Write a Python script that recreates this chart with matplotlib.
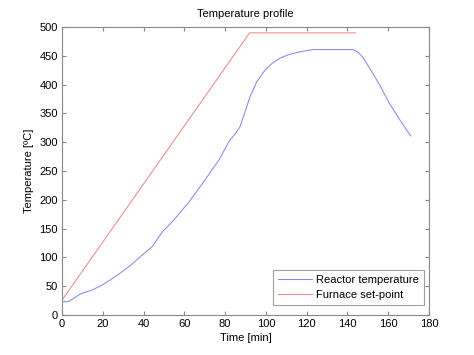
import numpy as np
import matplotlib.pyplot as plt

plt.rcParams['font.family'] = ['Liberation Sans', 'DejaVu Sans']
plt.rcParams['font.size'] = 8

# reactor temperature
t_reactor = [0, 2, 3.3, 9, 14.8, 19.7, 24.5, 29.6, 34.5, 39.4, 44.3, 49.3, 55, 62.4,
             69, 77.1, 82, 85, 87.3, 89.5, 92.2, 95.5, 99.5, 103, 106.9, 111, 116.7,
             123, 142.7, 145, 147.5, 151.5, 155.9, 160.5, 165.7, 171]
T_reactor = [23, 23, 23.5, 36.6, 43.5, 52, 63, 75.5, 89, 104.5, 119, 145, 165.5, 197,
             229, 270, 302, 315, 327, 350, 379, 405, 425, 437, 446, 452, 457,
             461, 461, 457, 448, 425, 399, 368, 339, 311]

# furnace set-point
t_furnace = [0, 92, 144]
T_furnace = [26, 490, 490]

fig = plt.figure(figsize=(4.74, 3.55), dpi=100)
ax = fig.add_axes([0.131, 0.1127, 0.774, 0.811])

ax.plot(t_reactor, T_reactor, color='#8888f0', linewidth=0.75, label='Reactor temperature')
ax.plot(t_furnace, T_furnace, color='#f08888', linewidth=0.75, label='Furnace set-point')

ax.set_xlim(0, 180)
ax.set_ylim(0, 500)
ax.set_xticks(np.arange(0, 181, 20))
ax.set_yticks(np.arange(0, 501, 50))
ax.tick_params(direction='in', top=True, right=True, length=3, color='#888888', labelsize=8, pad=3)
for s in ax.spines.values():
    s.set_color('#888888')
    s.set_linewidth(0.8)

ax.set_title('Temperature profile', fontsize=8, pad=7)
ax.set_xlabel('Time [min]', fontsize=8, labelpad=3)
ax.set_ylabel('Temperature [ºC]', fontsize=8, labelpad=4)

leg = ax.legend(loc='lower right', bbox_to_anchor=(0.986, 0.035), borderaxespad=0,
                fancybox=False, fontsize=8, handlelength=3.0, handletextpad=0.4,
                borderpad=0.45, labelspacing=0.45)
leg.get_frame().set_edgecolor('#888888')
leg.get_frame().set_linewidth(0.8)

plt.savefig('out.png', dpi=100)
